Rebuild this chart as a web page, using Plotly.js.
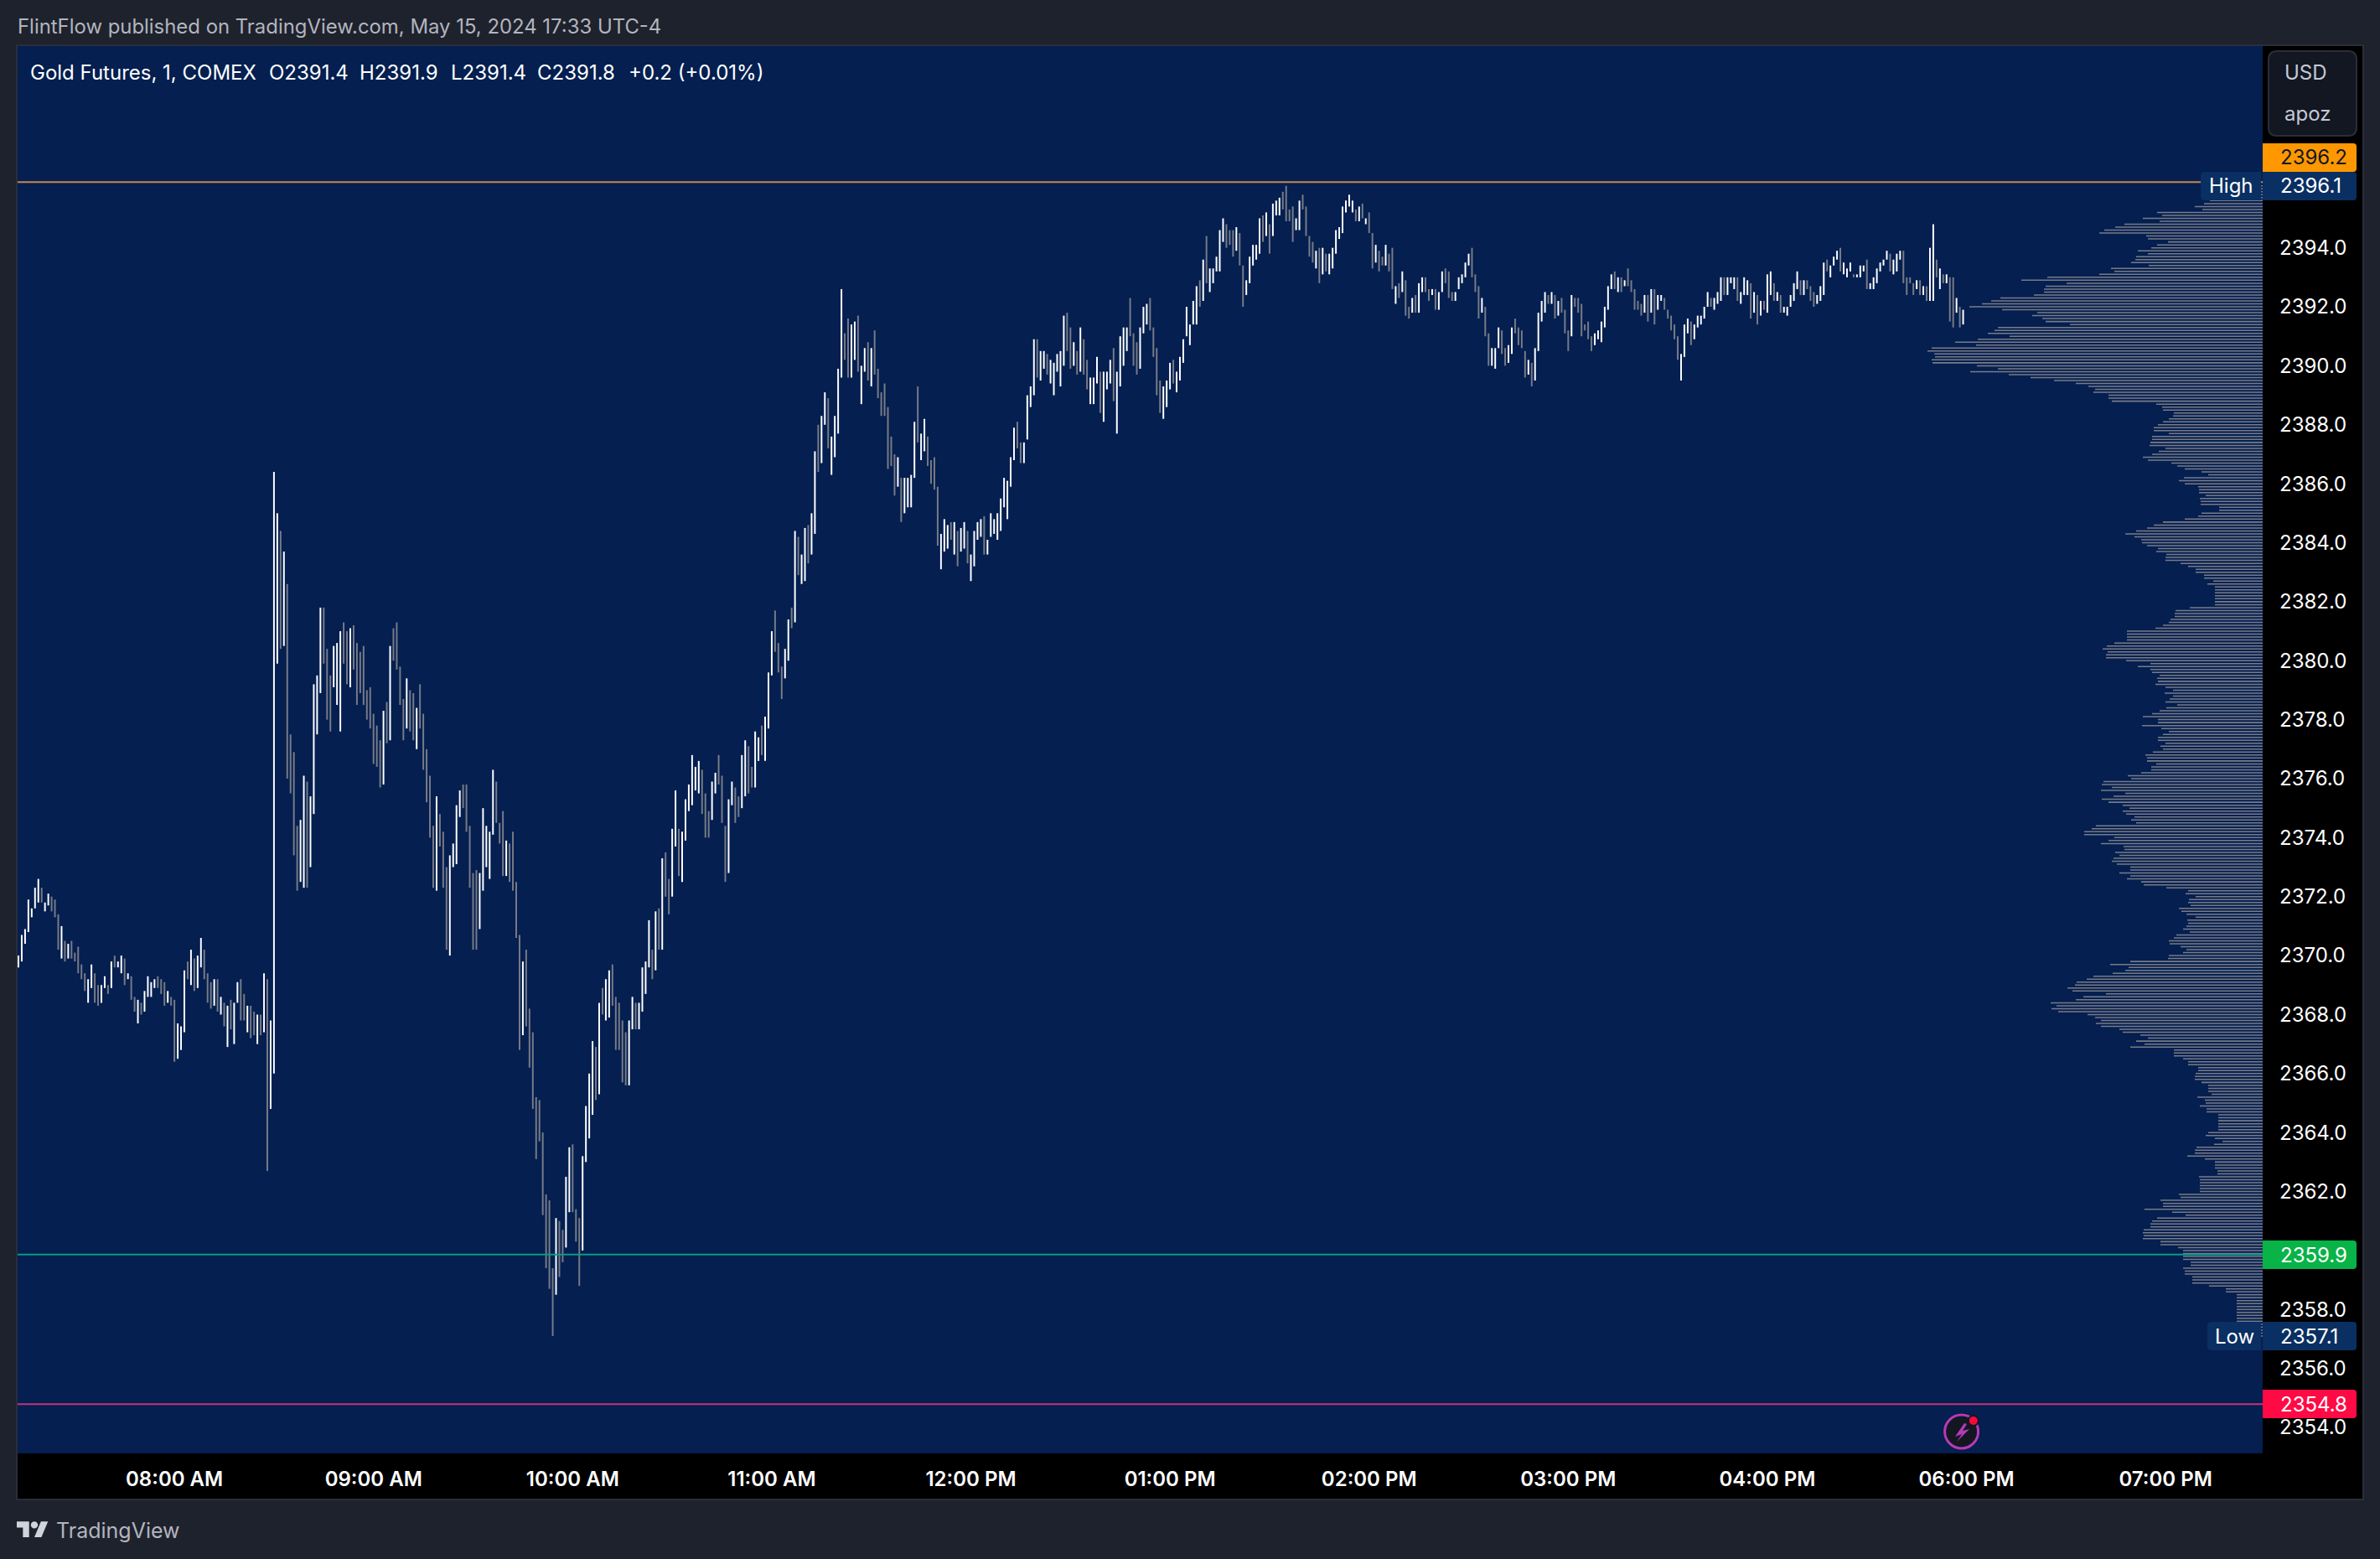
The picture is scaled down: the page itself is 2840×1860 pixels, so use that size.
<!DOCTYPE html>
<html>
<head>
<meta charset="utf-8">
<script src="https://cdn.plot.ly/plotly-3.0.1.min.js"></script>
<style>html,body{margin:0;padding:0;background:#1e222d;overflow:hidden}
.main-svg text{font-variant-numeric:tabular-nums}</style>
</head>
<body>
<div id="chart" style="width:2840px;height:1860px"></div>
<script>
const barHigh = [
2370.0,2370.7,2370.9,2371.9,2371.6,2372.3,2372.6,2372.3,2371.8,2372.1,
2372.0,2371.9,2371.4,2371.0,2370.5,2370.4,2370.5,2370.1,2370.3,2369.7,
2369.4,2369.2,2369.7,2369.4,2369.0,2369.0,2369.3,2369.0,2369.8,2370.0,
2369.8,2370.0,2369.9,2369.4,2369.3,2368.6,2368.5,2368.4,2368.8,2369.3,
2369.1,2369.2,2369.3,2369.2,2369.1,2368.8,2368.6,2368.5,2367.7,2367.6,
2369.5,2369.8,2370.2,2369.9,2370.0,2370.6,2370.2,2369.4,2369.1,2369.2,
2369.2,2368.6,2368.4,2368.3,2368.5,2368.4,2369.1,2369.2,2368.7,2368.3,
2368.3,2368.1,2368.0,2368.0,2369.4,2369.2,2367.8,2386.4,
2385.0,2384.4,2383.7,2382.6,2377.5,2376.9,2374.4,2374.6,2376.1,2375.9,
2375.4,2379.2,2379.5,2381.8,2381.8,2380.4,2379.5,2380.5,2380.6,2381.0,
2381.3,2381.0,2381.1,2381.2,2380.6,2380.3,2380.5,2379.0,2379.1,2378.2,
2377.8,2377.3,2378.3,2378.6,2380.5,2381.1,2381.3,2379.8,2378.7,2379.4,
2379.0,2378.9,2378.4,2379.2,2378.2,2377.0,2376.1,2374.4,2375.4,2374.8,
2374.2,2373.0,2373.4,2373.8,2375.1,2375.6,2375.8,2375.8,2374.4,2372.8,
2372.9,2372.8,2375.0,2374.4,2374.2,2376.3,2375.9,2374.5,2374.9,2373.9,
2373.8,2374.2,2372.5,2370.7,2369.8,2370.2,2368.2,2367.4,2365.2,2365.1,
2364.0,2361.9,2361.7,2359.4,2361.1,2361.0,2360.7,2362.5,2363.5,2363.6,
2361.4,2361.1,2363.2,2364.9,2366.0,2367.1,2366.9,2368.4,2368.9,2369.2,
2369.5,2369.7,2368.6,2368.4,2367.8,2367.4,2367.8,2368.6,2368.4,2368.4,
2369.6,2369.8,2371.2,2370.2,2371.5,2371.6,2373.3,2373.5,2372.6,2374.3,
2375.6,2374.3,2374.2,2375.3,2375.8,2376.8,2376.4,2376.6,2376.3,2375.5,
2374.9,2375.9,2376.2,2376.8,2376.1,2374.4,2375.3,2375.9,2375.7,2375.4,
2376.8,2377.3,2377.1,2376.4,2377.6,2377.4,2377.8,2378.1,2379.6,2381.0,
2381.7,2380.6,2379.8,2380.4,2381.4,2381.8,2384.4,2384.2,2383.6,2384.5,
2384.6,2385.0,2387.1,2388.0,2388.3,2389.1,2388.9,2387.6,2388.3,2389.9,
2392.6,2391.1,2391.6,2391.4,2391.5,2391.7,2390.0,2390.6,2390.8,2390.6,
2391.2,2389.9,2389.1,2389.4,2388.6,2387.6,2387.0,2386.9,2386.2,2386.2,
2386.2,2386.3,2388.1,2389.3,2387.7,2388.2,2387.6,2386.8,2386.9,2385.9,
2384.3,2384.8,2384.6,2384.7,2384.7,2384.4,2384.5,2384.7,2384.4,2383.6,
2384.4,2384.7,2384.8,2384.9,2384.1,2385.0,2384.8,2385.0,2385.5,2386.2,
2386.1,2386.9,2387.9,2388.1,2387.4,2387.4,2389.0,2389.3,2390.9,2390.9,
2390.5,2390.5,2390.4,2390.2,2390.1,2390.4,2390.5,2391.7,2391.8,2391.3,
2390.8,2390.5,2391.3,2390.9,2390.2,2389.6,2389.6,2390.3,2389.8,2389.8,
2389.8,2390.2,2390.6,2389.8,2391.0,2391.3,2391.3,2392.3,2391.1,2390.8,
2391.3,2392.0,2392.1,2392.3,2391.3,2390.6,2389.5,2389.3,2389.5,2390.1,
2390.2,2389.8,2390.3,2390.9,2392.0,2391.4,2392.2,2392.7,2392.9,2393.6,
2394.4,2393.3,2393.3,2393.7,2394.6,2395.0,2394.8,2394.6,2394.6,2394.7,
2394.5,2393.4,2392.9,2393.7,2394.1,2394.1,2395.0,2395.1,2395.2,2394.8,
2395.5,2395.6,2395.7,2395.9,2396.1,2395.3,2395.4,2395.0,2395.6,2395.8,
2395.4,2394.4,2394.2,2393.9,2394.0,2394.0,2393.8,2393.8,2394.0,2394.6,
2394.7,2395.4,2395.6,2395.8,2395.6,2395.3,2395.4,2395.5,2395.0,2395.2,
2394.5,2394.1,2393.9,2393.7,2394.1,2393.8,2394.0,2392.7,2392.8,2393.2,
2392.9,2392.0,2392.3,2392.4,2392.8,2393.0,2393.0,2392.6,2392.6,2392.6,
2392.5,2393.2,2393.3,2393.2,2392.5,2392.5,2393.0,2393.1,2393.5,2393.8,
2394.0,2393.1,2392.7,2392.3,2392.0,2391.1,2390.6,2390.6,2391.3,2391.2,
2390.6,2390.7,2391.3,2391.6,2391.3,2391.2,2390.5,2390.2,2390.1,2390.6,
2391.8,2392.2,2392.5,2392.4,2392.5,2392.4,2392.2,2392.3,2391.9,2391.2,
2392.4,2392.3,2392.3,2392.1,2391.4,2391.5,2391.0,2391.1,2391.2,2391.5,
2392.0,2392.7,2393.1,2393.2,2393.0,2393.0,2392.9,2393.3,2392.9,2392.6,
2392.2,2392.1,2392.4,2392.4,2392.6,2392.6,2392.4,2392.4,2392.3,2391.9,
2391.7,2391.4,2391.0,2390.4,2391.4,2391.6,2391.5,2391.4,2391.7,2391.7,
2392.0,2392.5,2392.3,2392.3,2392.5,2393.0,2393.0,2393.0,2393.0,2393.0,
2393.0,2392.5,2393.0,2392.9,2392.8,2392.5,2392.4,2392.2,2392.2,2393.1,
2393.2,2392.8,2392.5,2392.4,2392.0,2392.0,2392.4,2392.8,2393.2,2392.9,
2392.9,2392.9,2392.7,2392.5,2392.4,2392.7,2393.5,2393.6,2393.4,2393.7,
2393.9,2394.0,2393.5,2393.3,2393.5,2393.1,2393.1,2393.4,2393.4,2393.6,
2392.8,2393.0,2393.3,2393.5,2393.6,2393.9,2393.8,2393.6,2393.8,2393.9,
2393.9,2393.0,2393.0,2392.8,2392.9,2392.9,2392.7,2392.7,2394.0,2394.8,
2393.6,2393.3,2393.1,2393.1,2393.0,2393.0,2392.3,2392.0,2391.9];
const barLow = [
2369.6,2369.8,2370.4,2370.8,2371.3,2371.6,2371.8,2371.8,2371.5,2371.7,
2371.5,2371.3,2370.2,2369.9,2369.8,2369.9,2369.9,2369.8,2369.4,2369.2,
2368.8,2368.4,2368.9,2368.4,2368.3,2368.4,2368.9,2368.7,2368.9,2369.6,
2369.6,2369.4,2369.0,2369.2,2368.5,2368.1,2367.7,2368.0,2368.1,2368.6,
2368.6,2368.9,2368.9,2368.7,2368.3,2368.4,2368.3,2366.4,2366.5,2366.8,
2367.4,2369.2,2369.0,2368.8,2368.9,2369.6,2369.2,2368.4,2368.2,2368.3,
2368.1,2368.0,2367.6,2366.9,2367.5,2367.0,2368.4,2367.8,2367.8,2367.4,
2367.2,2367.3,2367.0,2367.3,2367.4,2362.7,2364.8,2366.0,
2379.9,2380.4,2380.5,2376.0,2375.5,2373.4,2372.2,2372.5,2372.3,2372.3,
2373.0,2374.8,2377.5,2378.9,2379.9,2378.0,2377.6,2379.1,2378.5,2377.6,
2379.9,2379.2,2379.1,2379.7,2378.5,2378.9,2378.5,2378.0,2377.7,2376.5,
2376.4,2375.7,2375.8,2377.2,2377.3,2380.0,2379.7,2378.5,2377.3,2377.7,
2377.6,2377.3,2377.0,2377.7,2376.3,2375.2,2374.0,2372.3,2372.2,2373.7,
2372.3,2370.2,2370.0,2373.0,2373.1,2374.7,2375.0,2374.2,2372.3,2370.2,
2370.2,2370.9,2372.2,2373.0,2372.6,2374.1,2374.5,2373.8,2372.7,2372.7,
2372.5,2372.2,2370.6,2366.8,2367.3,2367.6,2366.2,2364.8,2363.1,2363.7,
2361.2,2359.4,2358.7,2357.1,2358.5,2359.1,2359.6,2360.1,2361.3,2361.3,
2360.3,2358.8,2360.0,2363.0,2363.8,2364.6,2365.1,2365.3,2368.0,2367.8,
2367.9,2368.3,2366.8,2366.8,2365.7,2365.6,2365.6,2367.5,2367.5,2367.5,
2368.1,2368.7,2369.6,2369.2,2369.5,2370.2,2370.2,2372.0,2371.4,2372.0,
2373.7,2372.7,2372.5,2373.9,2374.9,2375.1,2375.6,2375.5,2374.8,2374.0,
2374.0,2374.6,2375.5,2375.8,2374.5,2372.5,2372.8,2375.1,2374.5,2374.7,
2375.0,2375.4,2375.5,2375.7,2375.7,2376.6,2376.8,2376.6,2377.7,2379.5,
2380.3,2379.6,2378.7,2379.4,2380.0,2381.1,2381.3,2382.9,2382.6,2382.7,
2383.3,2383.6,2384.3,2386.4,2386.7,2388.0,2387.2,2386.3,2386.9,2387.7,
2389.6,2390.2,2389.6,2389.6,2390.2,2389.8,2388.7,2389.8,2389.5,2389.3,
2389.7,2388.9,2388.3,2388.3,2386.5,2386.6,2385.6,2385.9,2384.7,2385.0,
2385.2,2385.2,2386.2,2387.4,2386.8,2387.1,2386.6,2386.0,2385.8,2383.9,
2383.1,2383.7,2383.8,2384.1,2383.6,2383.2,2383.7,2383.8,2383.3,2382.7,
2383.2,2384.1,2384.2,2383.6,2383.6,2384.2,2384.3,2384.1,2384.4,2385.2,
2384.8,2385.9,2386.8,2387.2,2386.7,2386.7,2387.5,2388.6,2389.0,2389.6,
2389.5,2389.9,2389.7,2389.4,2389.0,2389.8,2389.3,2390.0,2390.5,2389.9,
2390.0,2389.7,2389.8,2389.7,2389.2,2388.7,2388.7,2389.4,2388.4,2388.1,
2389.2,2389.4,2388.8,2387.7,2389.3,2390.0,2390.5,2391.0,2390.0,2389.7,
2389.9,2391.1,2391.4,2391.2,2390.3,2389.0,2388.4,2388.2,2388.6,2389.2,
2389.4,2389.1,2389.5,2390.1,2391.0,2390.7,2391.4,2391.4,2392.0,2392.2,
2392.8,2392.5,2392.8,2393.2,2393.2,2394.2,2394.0,2394.1,2393.7,2393.9,
2393.4,2392.0,2392.4,2392.8,2393.4,2393.6,2393.8,2394.2,2394.4,2393.8,
2394.4,2395.1,2395.1,2395.3,2394.9,2394.9,2394.2,2394.6,2394.6,2395.3,
2394.4,2393.7,2393.5,2393.3,2392.8,2393.1,2393.2,2393.1,2393.3,2393.8,
2394.3,2394.5,2395.2,2395.4,2395.2,2394.9,2394.9,2395.0,2394.8,2394.5,
2393.3,2393.5,2393.2,2393.4,2393.4,2393.2,2392.6,2392.1,2392.3,2392.5,
2391.7,2391.6,2391.8,2391.8,2391.8,2392.5,2392.5,2392.2,2392.4,2391.9,
2391.9,2392.5,2392.8,2392.3,2392.2,2392.2,2392.6,2392.8,2393.0,2393.4,
2393.0,2392.5,2391.6,2391.8,2391.0,2390.0,2390.0,2389.9,2390.6,2390.4,
2390.0,2390.1,2390.4,2391.1,2390.7,2390.6,2389.6,2389.7,2389.3,2389.5,
2390.5,2391.5,2391.8,2392.1,2392.1,2391.6,2391.7,2391.8,2391.1,2390.5,
2391.0,2392.0,2391.8,2391.0,2391.2,2390.9,2390.5,2390.7,2390.9,2390.8,
2391.3,2391.9,2392.6,2392.6,2392.5,2392.5,2392.7,2392.7,2392.5,2391.9,
2391.9,2391.7,2391.8,2391.5,2391.8,2391.4,2391.9,2392.2,2391.9,2391.6,
2391.2,2390.9,2390.2,2389.5,2390.3,2391.1,2390.7,2390.9,2391.3,2391.4,
2391.6,2392.0,2392.0,2391.9,2392.1,2392.2,2392.4,2392.4,2392.8,2392.6,
2392.2,2392.1,2392.4,2392.4,2391.6,2391.8,2391.4,2391.7,2391.9,2391.8,
2392.4,2392.2,2392.2,2391.8,2391.8,2391.7,2392.0,2392.2,2392.6,2392.4,
2392.4,2392.6,2392.2,2392.0,2392.1,2392.2,2392.4,2393.2,2393.0,2393.4,
2393.6,2393.2,2393.1,2393.0,2393.2,2393.0,2393.0,2393.0,2393.2,2392.6,
2392.6,2392.6,2392.8,2393.2,2393.4,2393.6,2393.2,2393.1,2393.2,2393.6,
2392.8,2392.4,2392.8,2392.4,2392.6,2392.4,2392.4,2392.2,2392.2,2392.2,
2393.0,2392.6,2392.8,2392.8,2391.5,2391.3,2391.8,2391.3,2391.4];
const barUp = [
1,1,1,1,1,1,1,0,1,1, 0,0,0,1,0,1,0,0,0,0, 0,1,1,0,0,1,1,0,1,0,
1,1,0,1,0,0,1,0,1,1, 1,1,0,0,0,1,0,0,1,1, 1,0,1,0,1,1,0,0,0,1,
0,1,0,1,0,1,1,0,0,1, 0,0,1,0,1,0,1,1,
1,0,1,0,0,0,0,1,1,0, 1,1,1,1,0,0,0,1,1,1, 0,0,1,0,0,0,0,0,0,0,
0,0,1,0,1,0,0,0,0,1, 0,0,1,0,0,0,0,0,1,0, 0,0,1,1,1,1,0,0,0,0,
0,1,1,1,1,1,0,0,0,1, 0,0,0,0,1,0,0,0,0,0, 0,0,0,0,1,0,0,1,1,0,
0,0,1,1,1,1,0,1,0,1, 1,0,0,0,0,0,1,1,0,1, 1,1,1,0,1,0,1,0,0,1,
1,0,1,1,1,1,1,1,0,0, 0,1,1,0,0,0,1,1,0,0, 1,1,0,0,1,1,0,1,1,1,
0,0,0,1,1,0,1,0,1,1, 0,1,1,0,1,1,0,1,1,1, 1,0,0,1,1,0,1,1,0,1,
0,0,0,0,0,0,0,1,0,1, 1,1,1,0,1,1,0,0,0,0, 1,1,1,0,1,0,1,1,0,1,
1,1,1,0,1,1,1,1,1,1, 1,1,1,0,0,1,1,1,1,0, 1,1,0,1,1,1,1,1,0,0,
1,0,1,0,0,1,1,1,0,1, 1,1,0,1,1,1,1,0,0,0, 1,1,1,0,0,0,0,1,1,1,
0,1,1,1,1,1,1,1,0,1, 0,1,1,1,1,1,0,0,0,1, 0,0,1,1,1,1,1,0,1,0,
1,1,1,0,0,0,0,1,1,0, 0,0,0,1,0,1,0,1,1,1, 1,1,1,1,1,0,1,0,1,0,
0,1,0,0,1,0,0,1,0,1, 0,0,1,0,1,1,0,0,1,0, 1,1,0,0,0,1,1,1,1,1,
0,0,0,1,0,0,1,1,1,0, 0,1,1,0,0,0,0,1,0,1, 1,1,1,0,1,0,1,0,0,0,
1,0,0,0,0,0,0,1,1,1, 1,1,1,0,1,0,1,0,0,0, 0,0,1,0,1,0,1,1,0,0,
0,0,0,1,1,1,0,1,1,1, 1,1,0,1,1,1,0,1,1,1, 0,1,1,1,0,1,0,1,0,1,
1,0,1,0,1,1,1,1,1,0, 1,0,0,0,1,1,1,0,1,1, 1,0,1,1,1,0,1,1,1,0,
1,1,1,1,1,1,0,1,1,1, 0,0,0,0,1,0,1,0,1,1, 0,1,0,1,0,0,1,0,1];

const profileTop = [50,50,50,50,50];
const profileUpper = [
63,70,81,72,126,120,143,123,165,176,
189,195,139,137,113,126,133,149,137,151,
152,157,136,181,177,195,257,288,234,259,
261,261,273,313,324,335,350,311,269,275,
263,259,230,316,320,328,302,340,367,342,
395,400,392,391,395,394,341,316,349,303,
277,249,223,208,200,202,184,184,180,127,
120,119,106,107];
const profileMiddle = [
112,119,125,130,130,112,132,132,134,135,
116,124,132,143,137,109,102,93,73,65,
94,100,93,77,76,76,68,75,74,74,
52,52,73,77,93,119,130,138,151,164,
153,145,144,138,125,127,115,116,116,98,
89,80,80,70,70,59,66,57,57,57,
57,57,57,57,87,104,105,105,110,112,
119,128,162,162,162,162,177,186,191,185,
187,187,163,134,149,134,132,123,126,125,
128,116,107,117,107,111,116,102,115,123,
132,143,125,125,144,121,112,119,125,125,
116,122,119,131,140,138,138,127,133,133,
145,161,157,190,192,180,193,164,178,192,
184,167,159,167,163,153,157];
const profileLower = [
151,199,204,213,213,177,184,193,166,165,
176,171,178,180,174,158,158,171,158,162,
145,142,115,89,92,80,88,89,86,100,
97,91,80,90,89,91,95,87,103,106,
112,111,98,91,95,112,113,158,182,160,
164,179,202,210,222,224,233,227,187,214,
223,253,246,252,244,209,200,193,199,193,
171,167,146,137,151,141,158,106,106,106,
95,89,89,77,77,80,81,81,73,65,
65,65,61,78,69,68,75,67,67,53,
53,53,53,53,53,65,68,57,48,58,
79,81,81,90,69,57,57,57,54,54,
76,75,75,75,75,75,100,98,122,119,
119,141,108,92,126,132,134,134,142];
const profileBottom = [
143,142,143,122,122,101,95,95,95,95,
86,86,95,93,93,84,84,84,64,44,
44,31,31,31,31,31,31,31,31,31,
31,31,31,31,31,31];

const priceTicks = [2354,2356,2358,2362,2364,2366,2368,2370,2372,2374,2376,2378,2380,2382,2384,2386,2388,2390,2392,2394];
const timeTickBars = [47,107,167,227,287,347,407,467,527,587,647];
const timeTickLabels = ['08:00 AM','09:00 AM','10:00 AM','11:00 AM','12:00 PM','01:00 PM','02:00 PM','03:00 PM','04:00 PM','06:00 PM','07:00 PM'];
const levelPrices = [2396.23,2359.86,2354.79];
const levelColors = ['#c8884c','#0a9a85','#c8307c'];

// layout frame, in page pixels
const L=21,R=2700,T=55,B=1734;
const fx=X=>(X-L)/(R-L), fy=Y=>(B-Y)/(B-T);
const barX=barHigh.map((_,i)=>i);
const profileVolume=[].concat(profileTop,profileUpper,profileMiddle,profileLower,profileBottom);
const profileBlocks=[[2396.1,profileTop],[2395.6,profileUpper],[2388.2,profileMiddle],[2374.5,profileLower],[2360.6,profileBottom]];
const profilePrice=[];
profileBlocks.forEach(b=>b[1].forEach((_,k)=>profilePrice.push(+(b[0]-0.1*k).toFixed(1))));

function rr(x0,y0,x1,y1,rl,r2){
  const p=(x,y)=>fx(x)+','+fy(y);
  return 'M'+p(x0+rl,y0)+' L'+p(x1-r2,y0)+' Q'+p(x1,y0)+' '+p(x1,y0+r2)+' L'+p(x1,y1-r2)+' Q'+p(x1,y1)+' '+p(x1-r2,y1)+
    ' L'+p(x0+rl,y1)+' Q'+p(x0,y1)+' '+p(x0,y1-rl)+' L'+p(x0,y0+rl)+' Q'+p(x0,y0)+' '+p(x0+rl,y0)+' Z';
}
function box(x0,y0,x1,y1,rl,r2,fill,line){
  return {type:'path',xref:'paper',yref:'paper',layer:'above',path:rr(x0,y0,x1,y1,rl,r2),fillcolor:fill,line:{width:line?2:0,color:line||fill}};
}
function poly(pts,fill){
  return {type:'path',xref:'paper',yref:'paper',layer:'above',fillcolor:fill,line:{width:0},
    path:'M'+pts.map(p=>fx(p[0])+','+fy(p[1])).join(' L')+' Z'};
}
function disc(cx,cy,r,fill,line,w){
  return {type:'circle',xref:'paper',yref:'paper',layer:'above',x0:fx(cx-r),x1:fx(cx+r),y0:fy(cy+r),y1:fy(cy-r),fillcolor:fill,line:{color:line||fill,width:w||0}};
}
const LS=1.05,LX=20,LY=1811;
const lp=a=>a.map(q=>[LX+q[0]*LS,LY+q[1]*LS]);

const shapes=[
  {type:'rect',xref:'paper',yref:'paper',layer:'below',x0:fx(20),x1:fx(2820),y0:fy(1789),y1:fy(54),fillcolor:'#000000',line:{color:'#2a2e39',width:2}},
  {type:'rect',xref:'paper',yref:'paper',layer:'below',x0:fx(L),x1:fx(R),y0:fy(B),y1:fy(T),fillcolor:'#041f50',line:{width:0}}
];
levelPrices.forEach((p,i)=>shapes.push({type:'line',xref:'paper',yref:'y',layer:'above',x0:0,x1:1,y0:p,y1:p,line:{color:levelColors[i],width:2}}));
shapes.push(
  box(2707,61,2812,162,10,10,'#131722','#2a2e39'),
  box(2700,171,2812,205,0,4,'#ff9800'),
  box(2626,205,2698,239,5,0,'#0a2f62'),
  box(2700,205,2812,239,0,4,'#0a2f62'),
  box(2634,1577,2698,1611,5,0,'#0a2f62'),
  box(2700,1577,2812,1611,0,4,'#0a2f62'),
  box(2700,1480,2812,1514,0,4,'#08b347'),
  box(2700,1658,2812,1692,0,4,'#ff0a45'),
  disc(2340.6,1708,22,'#131722'),
  disc(2340.6,1708,20,'#131722','#b33bbb',3),
  poly([[2344,1698],[2333,1714],[2341,1711],[2335,1720],[2350,1705],[2342,1707],[2347,1699]],'#b33bbb'),
  disc(2354.8,1695,7,'#131722'),
  disc(2354.8,1695,5,'#f7083e'),
  poly(lp([[0,4],[14,4],[14,22],[7,22],[7,11],[0,11]]),'#d1d4dc'),
  poly(lp([[27.5,4],[35.5,4],[28,22],[20,22]]),'#d1d4dc'),
  disc(LX+20*LS,LY+8*LS,4*LS,'#d1d4dc')
);

const F='Inter, "Liberation Sans", sans-serif';
function note(text,X,Y,size,color,anchor,weight){
  return {text:text,xref:'paper',yref:'paper',x:fx(X),y:fy(Y),xanchor:anchor||'left',yanchor:'middle',showarrow:false,
    font:{family:F,size:size,color:color,weight:weight||400},borderpad:0,align:anchor||'left'};
}
const annotations=[
  note('FlintFlow published on TradingView.com, May 15, 2024 17:33 UTC-4',20,32,23.9,'#b2b5be'),
  note('Gold Futures, 1, COMEX',35,86,24,'#ffffff'),
  note('O2391.4',320,86,24,'#ffffff'),
  note('H2391.9',428,86,24,'#ffffff'),
  note('L2391.4',537,86,24,'#ffffff'),
  note('C2391.8',640,86,24,'#ffffff'),
  note('+0.2 (+0.01%)',749,86,24,'#ffffff'),
  note('USD',2725,86,24,'#c4c9d6'),
  note('apoz',2725,135,24,'#c4c9d6'),
  note('2396.2',2720,188,24,'#131722'),
  note('High',2635,222,24,'#ffffff'),
  note('2396.1',2720,222,24,'#ffffff'),
  note('2359.9',2720,1497,24,'#ffffff'),
  note('Low',2642,1594,24,'#ffffff'),
  note('2357.1',2720,1594,24,'#ffffff'),
  note('2354.8',2720,1675,24,'#ffffff'),
  note('TradingView',66,1826,25,'#b2b5be')
];

Plotly.newPlot('chart',[
  {type:'bar',orientation:'v',x:barX,base:barLow,y:barHigh.map((h,i)=>+(h-barLow[i]).toFixed(1)),width:0.5,
   marker:{color:barUp.map(u=>u?'#ffffff':'#787b86'),line:{width:0}},xaxis:'x',yaxis:'y',hoverinfo:'skip',showlegend:false,name:'Gold Futures'},
  {type:'bar',orientation:'h',x:profileVolume,y:profilePrice,width:0.043,
   marker:{color:'#787b86',line:{width:0}},xaxis:'x2',yaxis:'y',hoverinfo:'skip',showlegend:false,name:'Volume profile'}
],{
  width:2840,height:1860,paper_bgcolor:'#1e222d',plot_bgcolor:'#041f50',showlegend:false,
  margin:{l:L,r:2840-R,t:T,b:1860-B,pad:0,autoexpand:false},
  barmode:'overlay',
  xaxis:{range:[-0.25,676.26],tickmode:'array',tickvals:timeTickBars,ticktext:timeTickLabels,showgrid:false,zeroline:false,showline:false,ticks:'',
    tickfont:{family:F,size:24,color:'#ffffff',weight:600},ticklabelstandoff:14,fixedrange:true},
  xaxis2:{overlaying:'x',range:[2679,0],visible:false,showgrid:false,zeroline:false,fixedrange:true},
  yaxis:{side:'right',range:[2353.12,2400.84],tickmode:'array',tickvals:priceTicks,ticktext:priceTicks.map(v=>v.toFixed(1)),showgrid:false,zeroline:false,showline:false,ticks:'',
    tickfont:{family:F,size:24,color:'#ffffff'},ticklabelstandoff:19,fixedrange:true},
  shapes:shapes,annotations:annotations
},{displayModeBar:false,staticPlot:true});
</script>
</body>
</html>
